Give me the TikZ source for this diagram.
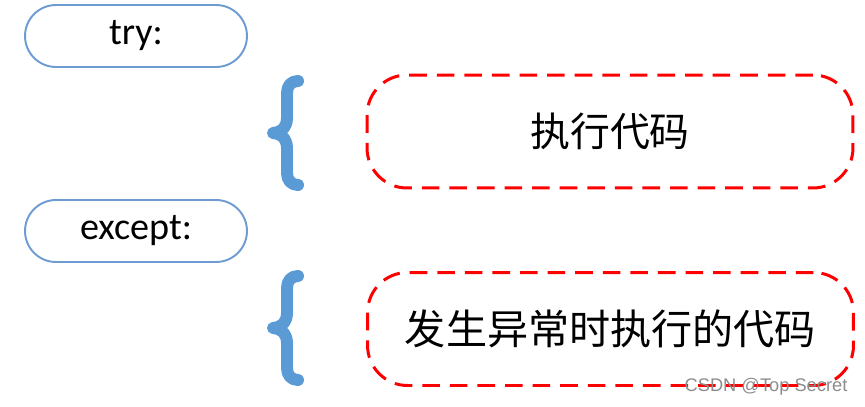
\documentclass[tikz,border=0pt]{standalone}
\usepackage{fontspec}
\setmainfont{Carlito}
\newfontfamily\cjk{Noto Sans CJK SC}
\newfontfamily\wmfont{Liberation Sans}
\usepackage{tikz}

\definecolor{keyblue}{RGB}{110,155,210}
\definecolor{braceblue}{RGB}{91,155,213}

\tikzset{
  keyword/.style={draw=keyblue,line width=1.1pt,rounded corners=0.62cm,
    minimum width=4.44cm,minimum height=1.24cm,font=\fontsize{21.7}{24}\selectfont},
  block/.style={draw=red,line width=1.7pt,dash pattern=on 10pt off 5.7pt,
    rounded corners=0.8cm,minimum width=9.72cm,minimum height=2.26cm},
  curly/.pic={
    \draw[braceblue,line width=6.8pt,line cap=round,line join=round]
      (30,5) .. controls (23,5) and (19,10) .. (19,17) -- (19,42)
      .. controls (19,52) and (12,57) .. (5,57)
      .. controls (12,57) and (19,62) .. (19,72) -- (19,97)
      .. controls (19,104) and (23,109) .. (30,109);
  }
}

\begin{document}
\begin{tikzpicture}[x=0.02cm,y=-0.02cm]
\useasboundingbox (0,0) rectangle (865,406);

\node[keyword] (try) at (136,36) {try:};
\node[keyword] (except) at (136,231) {except:};

\pic at (268,76) {curly};
\pic at (268,271) {curly};

\node[block] (trybody) at (610,131.5) {\cjk\fontsize{22.7}{26}\selectfont 执行代码};
\node[block] (exceptbody) at (610.5,329) {\cjk\fontsize{23.4}{27}\selectfont 发生异常时执行的代码};

\node[text=black!45,font=\wmfont\fontsize{10.4}{12}\selectfont] (mark) at (766,387) {CSDN @Top Secret};

\end{tikzpicture}
\end{document}
